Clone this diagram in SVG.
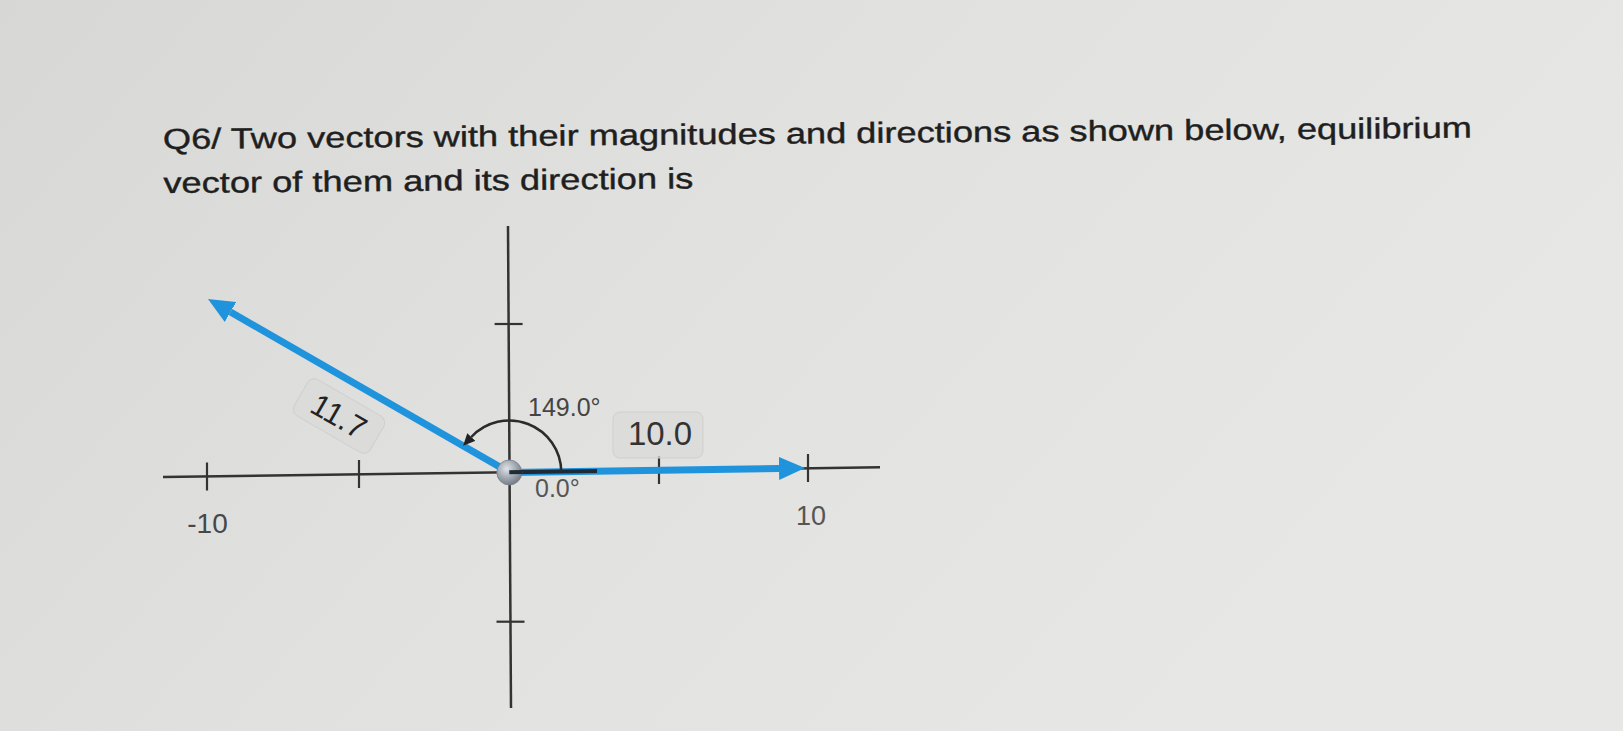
<svg xmlns="http://www.w3.org/2000/svg" width="1623" height="731" viewBox="0 0 1623 731">
  <defs>
    <linearGradient id="bg" x1="0" y1="0" x2="1" y2="0.4">
      <stop offset="0" stop-color="#d7d7d5"/>
      <stop offset="0.5" stop-color="#e1e1df"/>
      <stop offset="1" stop-color="#e7e7e5"/>
    </linearGradient>
    <radialGradient id="sphere" cx="0.4" cy="0.35" r="0.7">
      <stop offset="0" stop-color="#dfe3e8"/>
      <stop offset="0.6" stop-color="#9aa1aa"/>
      <stop offset="1" stop-color="#6e7580"/>
    </radialGradient>
    <marker id="blueHead" viewBox="0 -12 26 24" markerWidth="26" markerHeight="24" refX="0" refY="0" orient="auto" markerUnits="userSpaceOnUse">
      <path d="M0,-11.5 L26,0 L0,11.5 Z" fill="#1f93dc"/>
    </marker>
    <marker id="blackHead" viewBox="0 -6 12 12" markerWidth="12" markerHeight="12" refX="0" refY="0" orient="auto" markerUnits="userSpaceOnUse">
      <path d="M0,-5.5 L12,0 L0,5.5 Z" fill="#222"/>
    </marker>
    <style>
      .axis { stroke: #333; stroke-width: 2.5; fill: none; }
      .tick { stroke: #333; stroke-width: 2.2; }
      .vec { stroke: #1f93dc; stroke-width: 7; fill: none; stroke-linecap: butt; }
      .lbl { font-family: "Liberation Sans", Arial, sans-serif; }
      .title { font-family: "Liberation Sans", Arial, sans-serif; font-size: 29px; fill: #1f1f1f; stroke: #1f1f1f; stroke-width: 0.4; }
      .box { fill: #d9d9d8; fill-opacity: 0.75; stroke: #cfcfce; stroke-width: 1; }
    </style>
  </defs>

  <rect x="0" y="0" width="1623" height="731" fill="url(#bg)"/>

  <g id="title" transform="rotate(-0.5 163 149)">
    <text class="title" x="163" y="149" textLength="1309" lengthAdjust="spacingAndGlyphs">Q6/ Two vectors with their magnitudes and directions as shown below, equilibrium</text>
    <text class="title" x="163" y="193" textLength="530" lengthAdjust="spacingAndGlyphs">vector of them and its direction is</text>
  </g>

  <g id="axes">
    <line class="axis" x1="163" y1="477" x2="880" y2="467.3"/>
    <line class="axis" x1="508" y1="226" x2="511" y2="708"/>
    <line class="tick" x1="207" y1="462.5" x2="207" y2="490.5"/>
    <line class="tick" x1="359" y1="460" x2="359" y2="488"/>
    <line class="tick" x1="659" y1="456" x2="659" y2="484"/>
    <line class="tick" x1="808" y1="454" x2="808" y2="482"/>
    <line class="tick" x1="494.6" y1="324" x2="522.6" y2="324"/>
    <line class="tick" x1="496.5" y1="621.7" x2="524.5" y2="621.7"/>
  </g>

  <g id="axis-labels" class="lbl">
    <text x="207.5" y="533" font-size="28" fill="#474747" text-anchor="middle">-10</text>
    <text x="811" y="525" font-size="27" fill="#555" text-anchor="middle">10</text>
  </g>

  <g id="connectors">
    <line id="vector-11-7" class="vec" x1="509.3" y1="472.5" x2="230.5" y2="312" marker-end="url(#blueHead)"/>
    <line id="vector-10-0" class="vec" x1="509.3" y1="472.5" x2="779" y2="468.4" marker-end="url(#blueHead)"/>
    <line id="reference-line" x1="509.3" y1="472.3" x2="597" y2="471.1" stroke="#1d2a38" stroke-width="4"/>
    <path id="angle-arc" d="M561.3,471.8 A52,52 0 0 0 471.3,437.0" fill="none" stroke="#2b2b2b" stroke-width="2.5" marker-end="url(#blackHead)"/>
  </g>

  <g id="origin">
    <circle cx="509.3" cy="472.5" r="12.5" fill="url(#sphere)" stroke="#7a8089" stroke-width="0.8"/>
    <line x1="509.3" y1="472.3" x2="522" y2="472.1" stroke="#1d2a38" stroke-width="4"/>
  </g>

  <g id="label-11-7" transform="translate(339 416) rotate(30)">
    <rect class="box" x="-44" y="-21" width="88" height="42" rx="8"/>
    <text class="lbl" x="0" y="11" font-size="31" fill="#222" text-anchor="middle">11.7</text>
  </g>

  <g id="label-10-0">
    <rect class="box" x="613" y="412" width="90" height="46" rx="7"/>
    <text class="lbl" x="660" y="445" font-size="33" fill="#333" text-anchor="middle">10.0</text>
  </g>

  <g id="angle-labels" class="lbl">
    <text x="528" y="416" font-size="25" fill="#444">149.0°</text>
    <text x="535" y="497" font-size="25" fill="#555">0.0°</text>
  </g>
</svg>
